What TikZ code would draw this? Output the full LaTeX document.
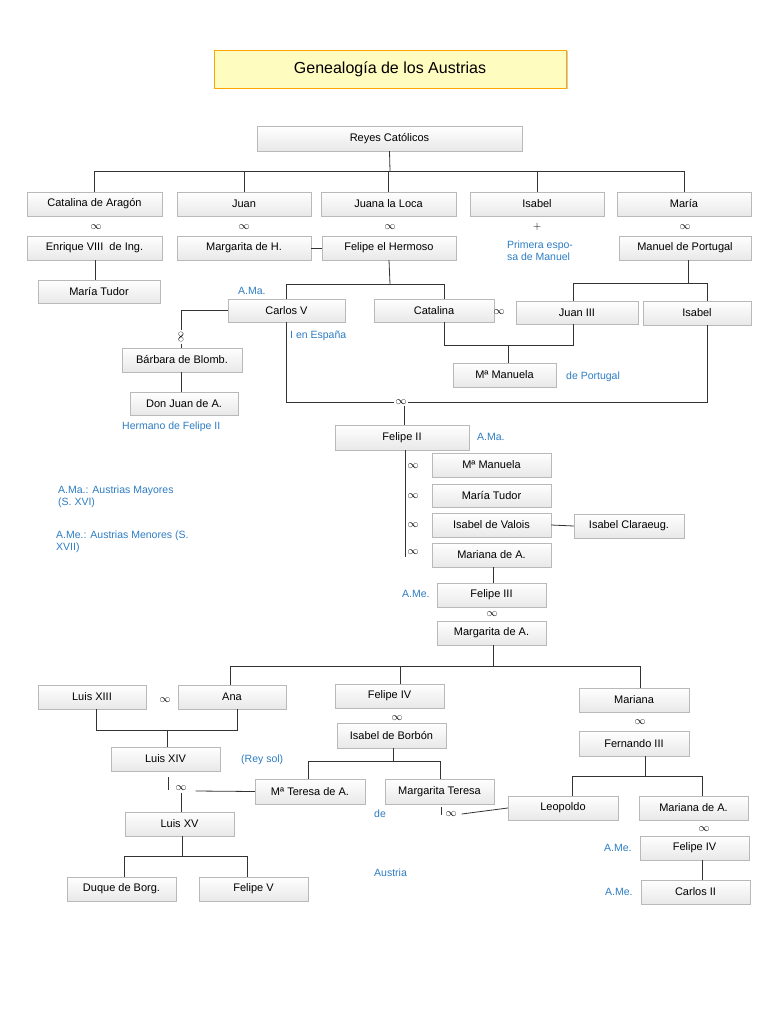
\documentclass[tikz,border=0pt]{standalone}
\usepackage{fontspec}
\setmainfont{Liberation Sans}
\usetikzlibrary{shadows}
\definecolor{bl}{RGB}{45,125,195}
\begin{document}
\begin{tikzpicture}[x=1pt,y=-1pt,
 box/.style={draw=gray!55,top color=white,bottom color=gray!18,inner sep=0pt,font=\fontsize{11}{13}\selectfont,
   drop shadow={shadow xshift=1.2pt,shadow yshift=-1.2pt,fill=gray!45,opacity=1}},
 lab/.style={text=bl,font=\fontsize{10.5}{12}\selectfont,inner sep=0pt,anchor=west,align=left},
 inf/.style={font=\fontsize{11}{11}\selectfont,inner sep=1pt},
 ln/.style={draw=black!80,line width=0.8pt}]
\useasboundingbox (0,0) rectangle (768,1024);
\fill[white] (0,0) rectangle (768,1024);
\newcommand\bx[6]{\node[box,minimum width={#4pt-#2pt},minimum height={#5pt-#3pt}] (#1) at ({(#2+#4)/2},{(#3+#5)/2}) {#6};}
\node[draw=orange!70!yellow,fill=yellow!25,minimum width=352pt,minimum height=38pt,font=\fontsize{16}{18}\selectfont,
  drop shadow={shadow xshift=1.5pt,shadow yshift=-1.5pt,fill=gray!40,opacity=1}] (title) at (390,69) {Genealogía de los Austrias};
\bx{reyes}{257}{126}{522}{151}{Reyes Católicos}
\bx{catal}{27}{192}{162}{216}{Catalina de Aragón}
\bx{juan}{177}{192}{311}{216}{Juan}
\bx{juana}{321}{192}{456}{216}{Juana la Loca}
\bx{isab}{470}{192}{604}{216}{Isabel}
\bx{maria}{617}{192}{751}{216}{María}
\bx{enri}{27}{236}{162}{260}{Enrique VIII \ de Ing.}
\bx{marg}{177}{236}{311}{260}{Margarita de H.}
\bx{felh}{322}{236}{456}{260}{Felipe el Hermoso}
\bx{manuel}{619}{236}{751}{260}{Manuel de Portugal}
\bx{mtudor}{38}{280}{160}{303}{María Tudor}
\bx{carlos}{228}{299}{345}{322}{Carlos V}
\bx{catalina}{374}{299}{494}{322}{Catalina}
\bx{juan3}{516}{301}{638}{324}{Juan III}
\bx{isab2}{643}{301}{751}{325}{Isabel}
\bx{barb}{122}{348}{242}{372}{Bárbara de Blomb.}
\bx{donj}{130}{392}{238}{415}{Don Juan de A.}
\bx{mman}{453}{363}{556}{387}{Mª Manuela}
\bx{fel2}{335}{425}{469}{450}{Felipe II}
\bx{mman2}{432}{453}{551}{477}{Mª Manuela}
\bx{mtud2}{432}{484}{551}{507}{María Tudor}
\bx{ivalois}{432}{513}{551}{537}{Isabel de Valois}
\bx{iclara}{574}{514}{684}{538}{Isabel Claraeug.}
\bx{mariana}{432}{543}{551}{567}{Mariana de A.}
\bx{fel3}{437}{583}{546}{607}{Felipe III}
\bx{margA}{437}{621}{546}{645}{Margarita de A.}
\bx{luis13}{38}{685}{146}{709}{Luis XIII}
\bx{ana}{178}{685}{286}{709}{Ana}
\bx{fel4}{335}{684}{444}{708}{Felipe IV}
\bx{mariana2}{579}{688}{689}{712}{Mariana}
\bx{ibor}{337}{723}{446}{748}{Isabel de Borbón}
\bx{fern}{579}{731}{689}{756}{Fernando III}
\bx{luis14}{111}{747}{220}{771}{Luis XIV}
\bx{mter}{255}{779}{365}{804}{Mª Teresa de A.}
\bx{mgter}{385}{779}{494}{804}{Margarita Teresa}
\bx{leop}{508}{796}{618}{820}{Leopoldo}
\bx{mariana3}{639}{796}{748}{820}{Mariana de A.}
\bx{luis15}{125}{812}{234}{836}{Luis XV}
\bx{fel4b}{640}{836}{749}{860}{Felipe IV}
\bx{duque}{67}{877}{176}{901}{Duque de Borg.}
\bx{fel5}{199}{877}{308}{901}{Felipe V}
\bx{carlos2}{641}{880}{750}{904}{Carlos II}
% infinity signs
\node[inf] (i1) at (96,227) {$\infty$};
\node[inf] (i2) at (244,227) {$\infty$};
\node[inf] (i3) at (390,227) {$\infty$};
\node[inf] (plus) at (537,227) {$+$};
\node[inf] (i4) at (685,227) {$\infty$};
\node[inf,rotate=90] (i5) at (181,337) {$\infty$};
\node[inf] (i6) at (499,312) {$\infty$};
\node[inf] (i7) at (401,402) {$\infty$};
\node[inf] (i8) at (413,466) {$\infty$};
\node[inf] (i9) at (413,496) {$\infty$};
\node[inf] (i10) at (413,525) {$\infty$};
\node[inf] (i11) at (413,552) {$\infty$};
\node[inf] (i12) at (492,614) {$\infty$};
\node[inf] (i13) at (165,700) {$\infty$};
\node[inf] (i14) at (397,718) {$\infty$};
\node[inf] (i15) at (640,722) {$\infty$};
\node[inf] (i16) at (181,788) {$\infty$};
\node[inf] (i17) at (451,814) {$\infty$};
\node[inf] (i18) at (704,829) {$\infty$};
% labels
\node[lab,anchor=north] (l1) at (540,241) {Primera espo-\\sa de Manuel};
\node[lab] (l2) at (238,291) {A.Ma.};
\node[lab] (l3) at (290,336) {I en España};
\node[lab] (l4) at (566,377) {de Portugal};
\node[lab] (l5) at (122,427) {Hermano de Felipe II};
\node[lab] (l6) at (477,437) {A.Ma.};
\node[lab,anchor=north west] (l7) at (58,486) {A.Ma.: Austrias Mayores\\(S. XVI)};
\node[lab,anchor=north west] (l8) at (56,531) {A.Me.: Austrias Menores (S.\\XVII)};
\node[lab] (l9) at (402,594) {A.Me.};
\node[lab] (l10) at (241,760) {(Rey sol)};
\node[lab] (l11) at (374,814) {de};
\node[lab] (l12) at (374,873) {Austria};
\node[lab] (l13) at (604,848) {A.Me.};
\node[lab] (l14) at (605,892) {A.Me.};
% connectors
\coordinate (b1) at (390,171);
\draw[ln] (reyes.south) -- (b1);
\foreach \n in {catal,juan,juana,isab,maria} \draw[ln] (\n.north) |- (b1);
\draw[ln] (marg.east) -- (felh.west);
\draw[ln] (enri.south -| 95,0) -- (mtudor.north -| 95,0);
\coordinate (b2) at (390,284);
\draw[ln] (felh.south) -- (b2);
\draw[ln] (carlos.north -| 286,0) |- (b2);
\draw[ln] (catalina.north -| 444,0) |- (b2);
\coordinate (b3) at (688,283);
\draw[ln] (manuel.south -| b3) -- (b3);
\draw[ln] (juan3.north -| 573,0) |- (b3);
\draw[ln] (isab2.north -| 707,0) |- (b3);
\draw[ln] (carlos.west) -| (i5.east);
\draw[ln] (i5.west) -- (barb.north -| i5);
\draw[ln] (barb.south -| 181,0) -- (donj.north -| 181,0);
\coordinate (b4) at (508,345);
\draw[ln] (catalina.south -| 444,0) |- (b4);
\draw[ln] (juan3.south -| 573,0) |- (b4);
\draw[ln] (b4) -- (mman.north -| b4);
\draw[ln] (carlos.south -| 286,0) |- (i7.west);
\draw[ln] (isab2.south -| 707,0) |- (i7.east);
\draw[ln] (i7.south -| 404,0) -- (fel2.north -| 404,0);
\coordinate (e1) at (405,557);
\draw[ln] (fel2.south -| e1) -- (e1);
\draw[ln] (ivalois.east) -- (iclara.west);
\draw[ln] (mariana.south -| 493,0) -- (fel3.north -| 493,0);
\coordinate (b5) at (493,666);
\draw[ln] (margA.south -| b5) -- (b5);
\draw[ln] (ana.north -| 230,0) |- (b5);
\draw[ln] (fel4.north -| 400,0) |- (b5);
\draw[ln] (mariana2.north -| 640,0) |- (b5);
\coordinate (b6) at (167,730);
\draw[ln] (luis13.south -| 96,0) |- (b6);
\draw[ln] (ana.south -| 237,0) |- (b6);
\draw[ln] (b6) -- (luis14.north -| b6);
\coordinate (b7) at (393,761);
\draw[ln] (ibor.south -| b7) -- (b7);
\draw[ln] (mter.north -| 308,0) |- (b7);
\draw[ln] (mgter.north -| 440,0) |- (b7);
\coordinate (e2) at (168,790);
\draw[ln] (luis14.south -| e2) ++(0,6) -- (e2);
\draw[ln] (i16.east) ++(8,3) -- (mter.west);
\draw[ln] (i16.south) ++(0,1) -- (luis15.north -| i16);
\coordinate (b8) at (182,856);
\draw[ln] (luis15.south -| b8) -- (b8);
\draw[ln] (duque.north -| 124,0) |- (b8);
\draw[ln] (fel5.north -| 247,0) |- (b8);
\coordinate (e3) at (441,815);
\draw[ln] (mgter.south -| e3) ++(0,3) -- (e3);
\draw[ln] (i17.east) ++(4,0) -- (leop.west);
\coordinate (b9) at (645,776);
\draw[ln] (fern.south -| b9) -- (b9);
\draw[ln] (leop.north -| 572,0) |- (b9);
\draw[ln] (mariana3.north -| 702,0) |- (b9);
\draw[ln] (fel4b.south -| 702,0) -- (carlos2.north -| 702,0);
\end{tikzpicture}
\end{document}
